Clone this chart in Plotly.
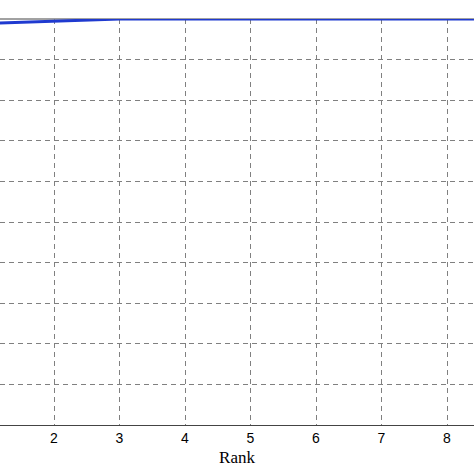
import plotly.graph_objects as go

# rank vs. cumulative recognition rate
rank = [1, 2, 3, 4, 5, 6, 7, 8, 9, 10]
rate = [0.989, 0.994, 1.0, 1.0, 1.0, 1.0, 1.0, 1.0, 1.0, 1.0]
x_ticks = [2, 3, 4, 5, 6, 7, 8]

fig = go.Figure()
fig.add_trace(go.Scatter(
    x=rank, y=rate,
    mode='lines',
    line=dict(color='#1f3ad0', width=3),
    cliponaxis=False,
    showlegend=False))

grid = dict(showgrid=True, gridcolor='#808080', gridwidth=1, griddash='5px,4px')

fig.update_layout(
    width=474, height=474,
    margin=dict(l=0, r=0, t=19, b=49),
    plot_bgcolor='white', paper_bgcolor='white',
    xaxis=dict(range=[1.1756, 8.412], tickvals=x_ticks, zeroline=False,
               automargin=False, layer='below traces',
               showline=True, linecolor='#444444', linewidth=1,
               tickfont=dict(family='Liberation Sans, Arial', size=14, color='black'),
               title=dict(text='Rank', standoff=6,
                          font=dict(family='Liberation Serif, Times New Roman', size=17, color='black')),
               **grid),
    yaxis=dict(range=[0, 1], dtick=0.1, zeroline=False, showline=False,
               automargin=False, layer='below traces', showticklabels=False, **grid),
)

# top frame line, kept beneath the curve
fig.add_shape(type='line', xref='paper', yref='paper', x0=0, x1=1, y0=1, y1=1,
              line=dict(color='#444444', width=1), layer='below')

# drop the browser's default body margin so the figure fills the window
fig.write_html("out.html", config={'displayModeBar': False},
               post_script="document.body.style.margin='0';")
